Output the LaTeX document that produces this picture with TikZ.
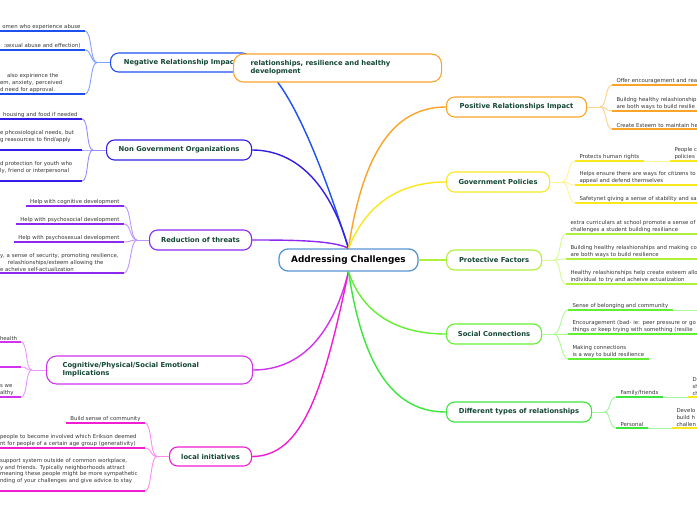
\documentclass[tikz,border=0pt]{standalone}
\usepackage{fontspec}
\setmainfont{DejaVu Sans}
\usetikzlibrary{positioning}
\definecolor{centerblue}{RGB}{85,150,210}
\definecolor{topictext}{RGB}{20,70,55}
\definecolor{leaftext}{RGB}{55,55,55}
\definecolor{negblue}{RGB}{30,80,240}
\definecolor{negpale}{RGB}{130,160,255}
\definecolor{ngblue}{RGB}{50,30,230}
\definecolor{ngpale}{RGB}{150,140,255}
\definecolor{redpurple}{RGB}{140,40,240}
\definecolor{redpale}{RGB}{190,150,255}
\definecolor{cogmag}{RGB}{210,50,240}
\definecolor{cogpale}{RGB}{235,150,255}
\definecolor{locpink}{RGB}{240,30,210}
\definecolor{locpale}{RGB}{255,140,240}
\definecolor{posorange}{RGB}{250,165,40}
\definecolor{pospale}{RGB}{253,210,140}
\definecolor{govyellow}{RGB}{250,232,30}
\definecolor{govpale}{RGB}{255,245,150}
\definecolor{proygreen}{RGB}{175,240,60}
\definecolor{propale}{RGB}{215,250,150}
\definecolor{socgreen}{RGB}{100,240,50}
\definecolor{socpale}{RGB}{175,250,150}
\definecolor{difgreen}{RGB}{60,230,60}
\definecolor{difpale}{RGB}{160,245,160}
\tikzset{
    %Define style for the central box
    root/.style={
           rectangle,
           rounded corners=9pt,
           draw=centerblue, line width=1.3pt,
           fill=white,
           minimum width=139pt,
           minimum height=22pt,
           font=\fontsize{8.9}{10}\selectfont\bfseries,
           text=black},
    %Define style for topic boxes
    topic/.style={
           rectangle,
           rounded corners=8pt,
           line width=1.1pt,
           fill=white,
           minimum height=20pt,
           inner xsep=10pt,
           anchor=west,
           font=\fontsize{6.8}{8}\selectfont\bfseries,
           text=topictext},
    %Define style for underlined leaves
    leafl/.style={
           anchor=south east,
           inner xsep=4.5pt, inner ysep=1.8pt, outer sep=0pt,
           font=\fontsize{5.4}{6.7}\selectfont,
           text=leaftext,
           align=right},
    leafr/.style={
           anchor=south west,
           inner xsep=4.5pt, inner ysep=1.8pt, outer sep=0pt,
           font=\fontsize{5.4}{6.7}\selectfont,
           text=leaftext,
           align=left},
    % Define line styles
    branch/.style={line width=1.4pt},
    twig/.style={line width=0.9pt},
    ul/.style={line width=1.6pt}
}
\begin{document}
\begin{tikzpicture}[x=1pt,y=-1pt]
\useasboundingbox (0,0) rectangle (697,520);
\clip (0,0) rectangle (697,520);
\fill[white] (0,0) rectangle (697,520);

% central topic
\node[root] (c) at (348.5,260) {Addressing Challenges};

% left topics
\node[topic,draw=negblue,minimum width=140pt,minimum height=19pt] (neg) at (110,62.5) {Negative Relationship Impact};
\node[topic,draw=ngblue,minimum width=145pt] (ng) at (106,150) {Non Government Organizations};
\node[topic,draw=redpurple,minimum width=102pt] (red) at (149,240) {Reduction of threats};
\node[topic,draw=cogmag,minimum width=206pt,minimum height=28pt,rounded corners=10pt,text width=174pt,inner xsep=16pt,align=left] (cog) at (46,370) {Cognitive/Physical/Social Emotional\\Implications};
\node[topic,draw=locpink,minimum width=82pt,minimum height=19pt] (loc) at (169,456.5) {local initiatives};

% right topics
\node[topic,draw=posorange,minimum width=140pt] (pos) at (446,107) {Positive Relationships Impact};
\node[topic,draw=govyellow,minimum width=103pt] (gov) at (446,182) {Government Policies};
\node[topic,draw=proygreen,minimum width=95pt] (pro) at (446,260) {Protective Factors};
\node[topic,draw=socgreen,minimum width=95pt] (soc) at (446,334) {Social Connections};
\node[topic,draw=difgreen,minimum width=145pt] (dif) at (446,412) {Different types of relationships};

% left leaves
\node[leafl,text width=80.5pt] (neg1) at (85,31) {omen who experience abuse};
\node[leafl,text width=80.5pt] (neg2) at (85,50) {:sexual abuse and effection)};
\node[leafl,text width=80.5pt,align=left] (neg3) at (85,94) {\hspace*{7pt}also expirience the\\em, anxiety, perceived\\d need for approval.};
\node[leafl,text width=77.5pt] (ng1) at (82,119) {housing and food if needed};
\node[leafl,text width=77.5pt,align=left] (ng2) at (82,150) {e phcosiological needs, but\\g reasources to find/apply\\\mbox{}};
\node[leafl,text width=77.5pt,align=left] (ng3) at (82,181) {d protection for youth who\\ly, friend or interpersonal\\\mbox{}};
\node[leafl] (red1) at (124,206) {Help with cognitive development};
\node[leafl] (red2) at (124,224) {Help with psychosocial development};
\node[leafl] (red3) at (124,242) {Help with psychosexual development};
\node[leafl,text width=119.5pt,align=left] (red4) at (124,273) {y, a sense of security, promoting resilience,\\\hspace*{8pt}relashionships/esteem allowing the\\e acheive self-actualization};
\node[leafl,text width=16.5pt] (cog1) at (21,342) {health};
\node[leafl,text width=16.5pt] (cog2) at (21,367) {};
\node[leafl,text width=16.5pt,align=left] (cog3) at (21,397) {s we\\althy};
\node[leafl] (loc1) at (145,423) {Build sense of community};
\node[leafl,text width=140.5pt,align=left] (loc2) at (145,448) {people to become involved which Erikson deemed\\nt for people of a certain age group (generativity)};
\node[leafl,text width=140.5pt,align=left] (loc3) at (145,491) {support system outside of common workplace,\\y and friends. Typically neighborhoods attract\\meaning these people might be more sympathetic\\nding of your challenges and give advice to stay\\\mbox{}};

% right leaves
\node[leafr,text width=200pt] (pos1) at (612,85) {Offer encouragement and rea};
\node[leafr,text width=200pt] (pos2) at (612,111) {Buildng healthy relashionship\\are both ways to build resilie};
\node[leafr,text width=200pt] (pos3) at (612,129) {Create Esteem to maintain he};
\node[leafr] (gov1) at (575,161) {Protects human rights};
\node[leafr,text width=200pt] (gov1a) at (670,161) {People ca\\policies (};
\node[leafr,text width=200pt] (gov2) at (575,185) {Helps ensure there are ways for citizens to\\appeal and defend themselves};
\node[leafr,text width=200pt] (gov3) at (575,203) {Safetynet giving a sense of stability and sa};
\node[leafr,text width=200pt] (pro1) at (566,234) {extra curriculars at school promote a sense of\\challenges a student building resiliance};
\node[leafr,text width=200pt] (pro2) at (566,259) {Building healthy relashionships and making co\\are both ways to build resilience};
\node[leafr,text width=200pt] (pro3) at (566,284) {Healthy relashionships help create esteem allo\\individual to try and acheive actualization};
\node[leafr] (soc1) at (568,310) {Sense of belonging and community};
\coordinate (soc1x) at (710,310);
\node[leafr,text width=200pt] (soc2) at (568,334) {Encouragement (bad- ie: peer pressure or go\\things or keep trying with something (resilie};
\node[leafr] (soc3) at (568,359) {Making connections\\is a way to build resilience};
\node[leafr] (dif1) at (616,397) {Family/friends};
\node[leafr,text width=200pt] (dif1a) at (688,397) {D\\sh\\ch};
\node[leafr] (dif2) at (616,428) {Personal};
\node[leafr,text width=200pt] (dif2a) at (672,428) {Develo\\build h\\challen};

% forks
\coordinate (negfork) at (97,62.5);
\coordinate (ngfork) at (93,150);
\coordinate (redfork) at (137,240);
\coordinate (cogfork) at (32,370);
\coordinate (locfork) at (157,456.5);
\coordinate (posfork) at (600,107);
\coordinate (govfork) at (562,182);
\coordinate (profork) at (554,260);
\coordinate (socfork) at (554,334);
\coordinate (diffork) at (604,412);

% central connectors
\draw[branch,negblue] (c.north) .. controls +(-38,-120) and +(25,0) .. (neg.east);
\draw[branch,ngblue] (c.north) .. controls +(-20,-70) and +(40,0) .. (ng.east);
\draw[branch,redpurple] (c.north) .. controls +(-15,-8) and +(40,0) .. (red.east);
\draw[branch,cogmag] (c.south) .. controls +(-15,60) and +(50,0) .. (cog.east);
\draw[branch,locpink] (c.south) .. controls +(-25,120) and +(50,0) .. (loc.east);
\draw[branch,posorange] (c.north) .. controls +(15,-100) and +(-50,0) .. (pos.west);
\draw[branch,govyellow] (c.north) .. controls +(20,-50) and +(-40,0) .. (gov.west);
\draw[branch,proygreen] (c.east) -- (pro.west);
\draw[branch,socgreen] (c.south) .. controls +(15,45) and +(-45,0) .. (soc.west);
\draw[branch,difgreen] (c.south) .. controls +(15,100) and +(-50,0) .. (dif.west);

% left sub branches
\draw[twig,negpale] (neg.west) -- (negfork);
\foreach \n in {neg1,neg2,neg3}{
  \draw[twig,negpale] (negfork) .. controls +(-7,0) and +(7,0) .. (\n.south east);
  \draw[ul,negblue] (\n.south west) -- (\n.south east);}
\draw[twig,ngpale] (ng.west) -- (ngfork);
\foreach \n in {ng1,ng2,ng3}{
  \draw[twig,ngpale] (ngfork) .. controls +(-7,0) and +(7,0) .. (\n.south east);
  \draw[ul,ngblue] (\n.south west) -- (\n.south east);}
\draw[twig,redpale] (red.west) -- (redfork);
\foreach \n in {red1,red2,red3,red4}{
  \draw[twig,redpale] (redfork) .. controls +(-7,0) and +(7,0) .. (\n.south east);
  \draw[ul,redpurple] (\n.south west) -- (\n.south east);}
\draw[twig,cogpale] (cog.west) -- (cogfork);
\foreach \n in {cog1,cog2,cog3}{
  \draw[twig,cogpale] (cogfork) .. controls +(-7,0) and +(7,0) .. (\n.south east);
  \draw[ul,cogmag] (\n.south west) -- (\n.south east);}
\draw[twig,locpale] (loc.west) -- (locfork);
\foreach \n in {loc1,loc2,loc3}{
  \draw[twig,locpale] (locfork) .. controls +(-7,0) and +(7,0) .. (\n.south east);
  \draw[ul,locpink] (\n.south west) -- (\n.south east);}

% right sub branches
\draw[twig,pospale] (pos.east) -- (posfork);
\foreach \n in {pos1,pos2,pos3}{
  \draw[twig,pospale] (posfork) .. controls +(7,0) and +(-7,0) .. (\n.south west);
  \draw[ul,posorange] (\n.south west) -- (\n.south east);}
\draw[twig,govpale] (gov.east) -- (govfork);
\foreach \n in {gov1,gov2,gov3}{
  \draw[twig,govpale] (govfork) .. controls +(7,0) and +(-7,0) .. (\n.south west);
  \draw[ul,govyellow] (\n.south west) -- (\n.south east);}
\draw[twig,govpale] (gov1.south east) -- (gov1a.south west);
\draw[ul,govyellow] (gov1a.south west) -- (gov1a.south east);
\draw[twig,propale] (pro.east) -- (profork);
\foreach \n in {pro1,pro2,pro3}{
  \draw[twig,propale] (profork) .. controls +(7,0) and +(-7,0) .. (\n.south west);
  \draw[ul,proygreen] (\n.south west) -- (\n.south east);}
\draw[twig,socpale] (soc.east) -- (socfork);
\foreach \n in {soc1,soc2,soc3}{
  \draw[twig,socpale] (socfork) .. controls +(7,0) and +(-7,0) .. (\n.south west);
  \draw[ul,socgreen] (\n.south west) -- (\n.south east);}
\draw[twig,socpale] (soc1.south east) -- (soc1x);
\draw[twig,difpale] (dif.east) -- (diffork);
\foreach \n in {dif1,dif2}{
  \draw[twig,difpale] (diffork) .. controls +(7,0) and +(-7,0) .. (\n.south west);
  \draw[ul,difgreen] (\n.south west) -- (\n.south east);}
\draw[twig,difpale] (dif1.south east) -- (dif1a.south west);
\draw[twig,difpale] (dif2.south east) -- (dif2a.south west);
\draw[ul,govyellow] (dif1a.south west) -- (dif1a.south east);
\draw[ul,govyellow] (dif2a.south west) -- (dif2a.south east);

% floating topic on top
\node[topic,draw=posorange,minimum width=208pt,minimum height=28pt,rounded corners=10pt,text width=174pt,inner xsep=17pt,align=left] (rel) at (233,68) {relationships, resilience and healthy\\development};
\end{tikzpicture}
\end{document}
